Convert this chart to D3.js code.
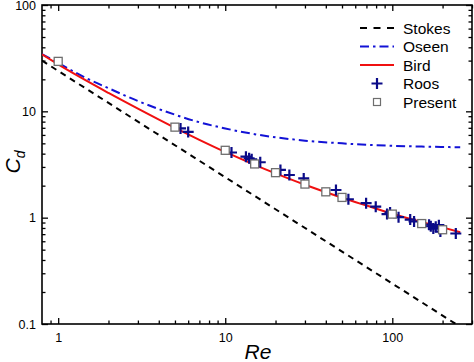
<!DOCTYPE html>
<html>
<head>
<meta charset="utf-8">
<script src="https://cdn.jsdelivr.net/npm/d3@7"></script>
<style>
  body { margin: 0; background: #fff; }
  svg { font-family: "Liberation Sans", Arial, sans-serif; }
</style>
</head>
<body>
<svg id="chart" width="474" height="362"></svg>
<script>
// curves
let stokesRe = [0.8, 250];
let stokesCd = [30, 0.096];

let oseenRe = [0.8, 1, 1.5, 2, 3, 5, 7, 10, 15, 20, 30, 50, 70, 100, 150, 200, 255];
let oseenCd = [34.5, 28.5, 20.2, 16.5, 12.5, 9.3, 7.9, 6.9, 6.1, 5.7, 5.3, 5.0, 4.85, 4.74, 4.66, 4.62, 4.59];

let birdRe = [0.8, 1, 2, 3, 5, 7, 10, 15, 20, 30, 50, 70, 100, 150, 200, 255];
let birdCd = [34.3, 27.6, 14.9, 10.6, 7.0, 5.4, 4.15, 3.14, 2.61, 2.04, 1.54, 1.3, 1.09, 0.91, 0.81, 0.73];

// markers
let roosRe = [5.4, 6.0, 10.9, 13.3, 13.9, 14.4, 16.2, 21.4, 24.2, 29.5, 46, 54.6, 69.7, 79.6, 93, 97, 109, 128, 135, 166, 170, 176, 182, 190, 194, 240];
let roosCd = [6.9, 6.4, 4.1, 3.75, 3.62, 3.54, 3.32, 2.81, 2.52, 2.34, 1.82, 1.49, 1.37, 1.27, 1.08, 1.12, 1.01, 0.96, 0.92, 0.86, 0.83, 0.79, 0.82, 0.85, 0.74, 0.71];

let presentRe = [1, 5, 10, 15, 20, 30, 40, 50, 100, 150, 200];
let presentCd = [29.5, 7.1, 4.3, 3.2, 2.65, 2.07, 1.75, 1.55, 1.08, 0.88, 0.77];

// ticks
let xMajor = [1, 10, 100];
let xMinor = [0.9, 2, 3, 4, 5, 6, 7, 8, 9, 20, 30, 40, 50, 60, 70, 80, 90, 200, 300];
let yMajor = [0.1, 1, 10, 100];
let yMinor = [0.2, 0.3, 0.4, 0.5, 0.6, 0.7, 0.8, 0.9, 2, 3, 4, 5, 6, 7, 8, 9, 20, 30, 40, 50, 60, 70, 80, 90];

let legendNames = ["Stokes", "Oseen", "Bird", "Roos", "Present"];

const L = 42, R = 472, T = 5, B = 324;

let svg = d3.select("#chart");

let x = d3.scaleLog().domain([0.8, 300]).range([L, R]);
let y = d3.scaleLog().domain([0.1, 100]).range([B, T]);

svg.append("clipPath").attr("id", "clip")
    .append("rect").attr("x", L).attr("y", T).attr("width", R - L).attr("height", B - T);

// axes, ticks pointing inward
function styleAxis(g) {
    g.select(".domain").remove();
    g.selectAll(".tick line").attr("stroke", "#000").attr("stroke-width", 1.3);
    g.selectAll(".tick text").attr("fill", "#000").style("font-size", "12.5px");
}

svg.append("g").attr("transform", `translate(0,${B})`)
    .call(d3.axisBottom(x).tickValues(xMajor).tickSize(-6).tickPadding(9).tickFormat(d3.format("d")))
    .call(styleAxis);
svg.append("g").attr("transform", `translate(0,${B})`)
    .call(d3.axisBottom(x).tickValues(xMinor).tickSize(-3.5).tickFormat(""))
    .call(styleAxis);
svg.append("g").attr("transform", `translate(0,${T})`)
    .call(d3.axisTop(x).tickValues(xMajor).tickSize(-6).tickFormat(""))
    .call(styleAxis);
svg.append("g").attr("transform", `translate(0,${T})`)
    .call(d3.axisTop(x).tickValues(xMinor).tickSize(-3.5).tickFormat(""))
    .call(styleAxis);

svg.append("g").attr("transform", `translate(${L},0)`)
    .call(d3.axisLeft(y).tickValues(yMajor).tickSize(-6).tickPadding(6).tickFormat(d => d < 1 ? "0.1" : d3.format("d")(d)))
    .call(styleAxis);
svg.append("g").attr("transform", `translate(${L},0)`)
    .call(d3.axisLeft(y).tickValues(yMinor).tickSize(-3.5).tickFormat(""))
    .call(styleAxis);
svg.append("g").attr("transform", `translate(${R},0)`)
    .call(d3.axisRight(y).tickValues(yMajor).tickSize(-6).tickFormat(""))
    .call(styleAxis);
svg.append("g").attr("transform", `translate(${R},0)`)
    .call(d3.axisRight(y).tickValues(yMinor).tickSize(-3.5).tickFormat(""))
    .call(styleAxis);

svg.append("rect")
    .attr("x", L).attr("y", T).attr("width", R - L).attr("height", B - T)
    .attr("fill", "none").attr("stroke", "#000").attr("stroke-width", 1.6);

// curves
let line = d3.line().x(d => x(d[0])).y(d => y(d[1])).curve(d3.curveMonotoneX);
let plot = svg.append("g").attr("clip-path", "url(#clip)");

plot.append("path").datum(d3.zip(stokesRe, stokesCd))
    .attr("d", line).attr("fill", "none")
    .attr("stroke", "#000").attr("stroke-width", 2).attr("stroke-dasharray", "6,5");
plot.append("path").datum(d3.zip(oseenRe, oseenCd))
    .attr("d", line).attr("fill", "none")
    .attr("stroke", "#1212d6").attr("stroke-width", 2).attr("stroke-dasharray", "9,4,2.5,4");
plot.append("path").datum(d3.zip(birdRe, birdCd))
    .attr("d", line).attr("fill", "none")
    .attr("stroke", "#f01010").attr("stroke-width", 2);

// Roos crosses
plot.selectAll(".roos")
    .data(d3.zip(roosRe, roosCd))
    .enter()
    .append("path")
    .attr("class", "roos")
    .attr("transform", d => `translate(${x(d[0])},${y(d[1])})`)
    .attr("d", "M-5.5,0H5.5M0,-5.5V5.5")
    .attr("stroke", "#0b0b88").attr("stroke-width", 2.2);

// Present squares
plot.selectAll(".present")
    .data(d3.zip(presentRe, presentCd))
    .enter()
    .append("rect")
    .attr("class", "present")
    .attr("x", d => x(d[0]) - 4).attr("y", d => y(d[1]) - 4)
    .attr("width", 8).attr("height", 8)
    .attr("fill", "#fff").attr("stroke", "#6e6e6e").attr("stroke-width", 1.3);

// legend
let leg = svg.append("g");
let ly = d3.scalePoint().domain(legendNames).range([28, 102]);
let lx0 = 360, lx1 = 394;

leg.append("line").attr("x1", lx0).attr("x2", lx1).attr("y1", ly("Stokes")).attr("y2", ly("Stokes"))
    .attr("stroke", "#000").attr("stroke-width", 2).attr("stroke-dasharray", "7,6.5");
leg.append("line").attr("x1", lx0).attr("x2", lx1).attr("y1", ly("Oseen")).attr("y2", ly("Oseen"))
    .attr("stroke", "#1212d6").attr("stroke-width", 2).attr("stroke-dasharray", "9,4,2.5,4");
leg.append("line").attr("x1", lx0).attr("x2", lx1).attr("y1", ly("Bird")).attr("y2", ly("Bird"))
    .attr("stroke", "#f01010").attr("stroke-width", 2);
leg.append("path").attr("transform", `translate(${(lx0 + lx1) / 2},${ly("Roos")})`)
    .attr("d", "M-5.5,0H5.5M0,-5.5V5.5")
    .attr("stroke", "#0b0b88").attr("stroke-width", 2.2);
leg.append("rect").attr("x", (lx0 + lx1) / 2 - 3.5).attr("y", ly("Present") - 3.5)
    .attr("width", 7).attr("height", 7)
    .attr("fill", "#fff").attr("stroke", "#6e6e6e").attr("stroke-width", 1.2);

leg.selectAll(".lab")
    .data(legendNames)
    .enter()
    .append("text")
    .attr("class", "lab")
    .attr("x", 403)
    .attr("y", d => ly(d) + 5.5)
    .style("font-size", "15.5px")
    .text(d => d);

// axis titles
svg.append("text")
    .attr("x", 258).attr("y", 359)
    .attr("text-anchor", "middle")
    .style("font-size", "21px").style("font-style", "italic")
    .text("Re");

let yt = svg.append("text")
    .attr("transform", "translate(20,162) rotate(-90)")
    .attr("text-anchor", "middle")
    .style("font-size", "21px").style("font-style", "italic");
yt.append("tspan").text("C");
yt.append("tspan").attr("dy", 5).style("font-size", "14px").text("d");
</script>
</body>
</html>
